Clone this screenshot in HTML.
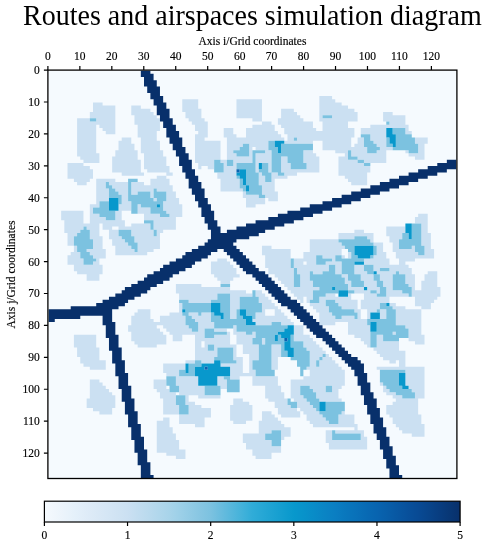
<!DOCTYPE html>
<html><head><meta charset="utf-8"><title>Routes and airspaces simulation diagram</title><style>html,body{margin:0;padding:0;background:#fff;width:485px;height:550px;overflow:hidden;position:relative}</style></head><body>
<svg width="485" height="550" viewBox="0 0 485 550" style="position:absolute;left:0;top:0">
<g>
<rect x="0" y="0" width="485" height="550" fill="#ffffff"/>
<svg x="48.4" y="70.6" width="408.00" height="407.50" viewBox="0 0 128 128" preserveAspectRatio="none">
<rect x="0" y="0" width="128" height="128" fill="#f5fafe"/>
<path fill="#cbe0f2" d="M85 8h4v1h-4zM42 9h5v1h-5zM59 9h8v1h-8zM85 9h5v1h-5zM14 10h3v1h-3zM42 10h5v1h-5zM59 10h8v1h-8zM85 10h7v1h-7zM14 11h7v1h-7zM26 11h3v1h-3zM42 11h5v1h-5zM59 11h8v1h-8zM85 11h9v1h-9zM14 12h7v1h-7zM26 12h6v1h-6zM42 12h6v1h-6zM59 12h8v1h-8zM73 12h4v1h-4zM85 12h11v1h-11zM13 13h8v1h-8zM26 13h7v1h-7zM43 13h5v1h-5zM59 13h8v1h-8zM73 13h5v1h-5zM85 13h12v1h-12zM105 13h3v1h-3zM13 14h8v1h-8zM27 14h7v1h-7zM43 14h5v1h-5zM59 14h8v1h-8zM73 14h6v1h-6zM85 14h1v1h-1zM89 14h8v1h-8zM105 14h7v1h-7zM9 15h4v1h-4zM15 15h6v1h-6zM27 15h8v1h-8zM44 15h5v1h-5zM64 15h3v1h-3zM72 15h8v1h-8zM85 15h12v1h-12zM105 15h7v1h-7zM9 16h12v1h-12zM27 16h8v1h-8zM45 16h5v1h-5zM67 16h3v1h-3zM72 16h11v1h-11zM86 16h8v1h-8zM107 16h5v1h-5zM9 17h6v1h-6zM16 17h5v1h-5zM28 17h7v1h-7zM46 17h4v1h-4zM64 17h7v1h-7zM73 17h10v1h-10zM86 17h8v1h-8zM101 17h12v1h-12zM9 18h6v1h-6zM17 18h4v1h-4zM28 18h7v1h-7zM46 18h4v1h-4zM55 18h3v1h-3zM62 18h9v1h-9zM74 18h10v1h-10zM86 18h10v1h-10zM98 18h8v1h-8zM112 18h1v1h-1zM9 19h6v1h-6zM18 19h3v1h-3zM28 19h6v1h-6zM47 19h3v1h-3zM55 19h3v1h-3zM62 19h10v1h-10zM74 19h22v1h-22zM98 19h8v1h-8zM112 19h2v1h-2zM9 20h6v1h-6zM28 20h6v1h-6zM46 20h4v1h-4zM55 20h4v1h-4zM62 20h11v1h-11zM75 20h21v1h-21zM101 20h5v1h-5zM9 21h6v1h-6zM23 21h3v1h-3zM29 21h5v1h-5zM46 21h3v1h-3zM56 21h18v1h-18zM75 21h2v1h-2zM78 21h17v1h-17zM97 21h2v1h-2zM101 21h5v1h-5zM115 21h4v1h-4zM9 22h6v1h-6zM22 22h4v1h-4zM29 22h6v1h-6zM46 22h8v1h-8zM56 22h13v1h-13zM74 22h9v1h-9zM86 22h9v1h-9zM97 22h2v1h-2zM102 22h4v1h-4zM115 22h4v1h-4zM9 23h6v1h-6zM22 23h5v1h-5zM29 23h6v1h-6zM46 23h8v1h-8zM56 23h5v1h-5zM63 23h6v1h-6zM86 23h9v1h-9zM96 23h3v1h-3zM103 23h3v1h-3zM116 23h2v1h-2zM9 24h6v1h-6zM22 24h5v1h-5zM29 24h6v1h-6zM46 24h8v1h-8zM56 24h4v1h-4zM63 24h1v1h-1zM65 24h4v1h-4zM86 24h14v1h-14zM104 24h4v1h-4zM116 24h2v1h-2zM9 25h6v1h-6zM21 25h7v1h-7zM29 25h7v1h-7zM46 25h8v1h-8zM56 25h2v1h-2zM63 25h1v1h-1zM68 25h2v1h-2zM80 25h3v1h-3zM90 25h4v1h-4zM95 25h5v1h-5zM103 25h3v1h-3zM112 25h1v1h-1zM116 25h2v1h-2zM9 26h7v1h-7zM21 26h7v1h-7zM30 26h6v1h-6zM46 26h8v1h-8zM56 26h3v1h-3zM63 26h1v1h-1zM65 26h5v1h-5zM80 26h4v1h-4zM93 26h1v1h-1zM95 26h11v1h-11zM113 26h5v1h-5zM10 27h6v1h-6zM20 27h8v1h-8zM30 27h7v1h-7zM46 27h8v1h-8zM56 27h8v1h-8zM65 27h5v1h-5zM73 27h2v1h-2zM80 27h5v1h-5zM91 27h3v1h-3zM97 27h9v1h-9zM115 27h3v1h-3zM11 28h5v1h-5zM20 28h9v1h-9zM30 28h7v1h-7zM46 28h6v1h-6zM54 28h2v1h-2zM58 28h6v1h-6zM65 28h5v1h-5zM73 28h2v1h-2zM80 28h5v1h-5zM91 28h6v1h-6zM99 28h7v1h-7zM6 29h5v1h-5zM20 29h9v1h-9zM30 29h7v1h-7zM47 29h5v1h-5zM55 29h1v1h-1zM58 29h1v1h-1zM65 29h1v1h-1zM69 29h1v1h-1zM73 29h3v1h-3zM81 29h4v1h-4zM91 29h8v1h-8zM6 30h7v1h-7zM20 30h9v1h-9zM30 30h8v1h-8zM47 30h1v1h-1zM50 30h2v1h-2zM55 30h4v1h-4zM65 30h1v1h-1zM69 30h1v1h-1zM73 30h3v1h-3zM81 30h4v1h-4zM91 30h10v1h-10zM6 31h8v1h-8zM20 31h9v1h-9zM31 31h7v1h-7zM55 31h4v1h-4zM65 31h1v1h-1zM69 31h1v1h-1zM73 31h12v1h-12zM91 31h10v1h-10zM6 32h8v1h-8zM23 32h7v1h-7zM37 32h2v1h-2zM53 32h6v1h-6zM66 32h1v1h-1zM70 32h2v1h-2zM74 32h4v1h-4zM91 32h9v1h-9zM6 33h8v1h-8zM34 33h3v1h-3zM53 33h6v1h-6zM66 33h2v1h-2zM70 33h5v1h-5zM93 33h7v1h-7zM8 34h5v1h-5zM15 34h6v1h-6zM32 34h6v1h-6zM54 34h6v1h-6zM66 34h2v1h-2zM70 34h1v1h-1zM94 34h6v1h-6zM9 35h3v1h-3zM15 35h3v1h-3zM19 35h6v1h-6zM26 35h4v1h-4zM32 35h6v1h-6zM54 35h6v1h-6zM66 35h5v1h-5zM95 35h5v1h-5zM15 36h3v1h-3zM20 36h5v1h-5zM26 36h13v1h-13zM54 36h6v1h-6zM67 36h4v1h-4zM15 37h4v1h-4zM21 37h4v1h-4zM26 37h7v1h-7zM34 37h5v1h-5zM54 37h7v1h-7zM67 37h4v1h-4zM15 38h4v1h-4zM22 38h3v1h-3zM26 38h2v1h-2zM32 38h1v1h-1zM37 38h3v1h-3zM61 38h1v1h-1zM67 38h5v1h-5zM15 39h4v1h-4zM23 39h2v1h-2zM32 39h1v1h-1zM37 39h3v1h-3zM61 39h5v1h-5zM68 39h4v1h-4zM15 40h4v1h-4zM23 40h2v1h-2zM33 40h1v1h-1zM37 40h4v1h-4zM62 40h6v1h-6zM69 40h3v1h-3zM15 41h1v1h-1zM23 41h3v1h-3zM36 41h5v1h-5zM62 41h6v1h-6zM13 42h3v1h-3zM22 42h4v1h-4zM28 42h1v1h-1zM36 42h6v1h-6zM62 42h3v1h-3zM13 43h1v1h-1zM22 43h4v1h-4zM28 43h4v1h-4zM36 43h6v1h-6zM4 44h7v1h-7zM13 44h1v1h-1zM21 44h2v1h-2zM28 44h4v1h-4zM37 44h5v1h-5zM4 45h7v1h-7zM13 45h3v1h-3zM21 45h2v1h-2zM30 45h5v1h-5zM38 45h4v1h-4zM116 45h3v1h-3zM4 46h7v1h-7zM13 46h5v1h-5zM21 46h2v1h-2zM30 46h10v1h-10zM115 46h4v1h-4zM5 47h6v1h-6zM13 47h11v1h-11zM33 47h7v1h-7zM115 47h4v1h-4zM5 48h11v1h-11zM17 48h7v1h-7zM26 48h6v1h-6zM33 48h7v1h-7zM117 48h2v1h-2zM5 49h6v1h-6zM12 49h4v1h-4zM17 49h3v1h-3zM22 49h10v1h-10zM33 49h7v1h-7zM106 49h6v1h-6zM117 49h2v1h-2zM5 50h5v1h-5zM13 50h3v1h-3zM19 50h3v1h-3zM26 50h7v1h-7zM34 50h2v1h-2zM96 50h3v1h-3zM106 50h6v1h-6zM117 50h2v1h-2zM6 51h3v1h-3zM13 51h3v1h-3zM19 51h3v1h-3zM26 51h7v1h-7zM34 51h1v1h-1zM91 51h11v1h-11zM106 51h5v1h-5zM117 51h3v1h-3zM6 52h2v1h-2zM13 52h4v1h-4zM19 52h4v1h-4zM27 52h8v1h-8zM91 52h5v1h-5zM100 52h2v1h-2zM107 52h4v1h-4zM117 52h3v1h-3zM6 53h2v1h-2zM14 53h3v1h-3zM20 53h4v1h-4zM27 53h8v1h-8zM82 53h9v1h-9zM101 53h1v1h-1zM107 53h3v1h-3zM117 53h3v1h-3zM6 54h2v1h-2zM14 54h3v1h-3zM20 54h5v1h-5zM28 54h7v1h-7zM82 54h10v1h-10zM102 54h3v1h-3zM108 54h2v1h-2zM117 54h3v1h-3zM8 55h1v1h-1zM14 55h3v1h-3zM21 55h5v1h-5zM28 55h7v1h-7zM67 55h3v1h-3zM82 55h11v1h-11zM103 55h2v1h-2zM108 55h2v1h-2zM114 55h1v1h-1zM118 55h2v1h-2zM8 56h1v1h-1zM12 56h6v1h-6zM21 56h6v1h-6zM28 56h5v1h-5zM67 56h9v1h-9zM82 56h10v1h-10zM103 56h2v1h-2zM108 56h7v1h-7zM118 56h3v1h-3zM7 57h3v1h-3zM13 57h5v1h-5zM21 57h10v1h-10zM67 57h9v1h-9zM80 57h12v1h-12zM94 57h1v1h-1zM103 57h3v1h-3zM109 57h7v1h-7zM118 57h3v1h-3zM6 58h4v1h-4zM14 58h4v1h-4zM68 58h8v1h-8zM80 58h4v1h-4zM86 58h4v1h-4zM92 58h1v1h-1zM94 58h1v1h-1zM102 58h4v1h-4zM109 58h12v1h-12zM6 59h5v1h-5zM15 59h1v1h-1zM53 59h3v1h-3zM68 59h8v1h-8zM77 59h7v1h-7zM89 59h1v1h-1zM99 59h8v1h-8zM110 59h5v1h-5zM6 60h5v1h-5zM14 60h2v1h-2zM51 60h6v1h-6zM68 60h8v1h-8zM77 60h3v1h-3zM81 60h3v1h-3zM87 60h5v1h-5zM99 60h8v1h-8zM110 60h2v1h-2zM8 61h9v1h-9zM51 61h7v1h-7zM68 61h8v1h-8zM77 61h11v1h-11zM90 61h2v1h-2zM96 61h3v1h-3zM102 61h11v1h-11zM8 62h9v1h-9zM51 62h8v1h-8zM69 62h8v1h-8zM78 62h10v1h-10zM90 62h2v1h-2zM96 62h3v1h-3zM102 62h2v1h-2zM107 62h7v1h-7zM9 63h8v1h-8zM51 63h8v1h-8zM69 63h8v1h-8zM78 63h4v1h-4zM83 63h3v1h-3zM90 63h2v1h-2zM96 63h4v1h-4zM103 63h6v1h-6zM110 63h4v1h-4zM119 63h3v1h-3zM12 64h4v1h-4zM52 64h8v1h-8zM71 64h6v1h-6zM79 64h3v1h-3zM92 64h2v1h-2zM98 64h4v1h-4zM104 64h4v1h-4zM112 64h3v1h-3zM118 64h4v1h-4zM12 65h4v1h-4zM53 65h5v1h-5zM72 65h5v1h-5zM79 65h3v1h-3zM93 65h1v1h-1zM98 65h4v1h-4zM104 65h4v1h-4zM112 65h3v1h-3zM118 65h4v1h-4zM54 66h3v1h-3zM73 66h4v1h-4zM79 66h4v1h-4zM93 66h2v1h-2zM99 66h4v1h-4zM105 66h3v1h-3zM112 66h3v1h-3zM117 66h5v1h-5zM40 67h8v1h-8zM74 67h3v1h-3zM79 67h4v1h-4zM94 67h1v1h-1zM99 67h4v1h-4zM105 67h3v1h-3zM113 67h2v1h-2zM117 67h5v1h-5zM40 68h17v1h-17zM75 68h10v1h-10zM94 68h5v1h-5zM100 68h4v1h-4zM106 68h2v1h-2zM114 68h1v1h-1zM117 68h6v1h-6zM40 69h22v1h-22zM65 69h2v1h-2zM76 69h7v1h-7zM96 69h5v1h-5zM103 69h1v1h-1zM106 69h5v1h-5zM114 69h9v1h-9zM41 70h12v1h-12zM57 70h7v1h-7zM65 70h3v1h-3zM77 70h6v1h-6zM87 70h3v1h-3zM94 70h1v1h-1zM99 70h4v1h-4zM106 70h7v1h-7zM114 70h9v1h-9zM41 71h12v1h-12zM57 71h3v1h-3zM66 71h3v1h-3zM78 71h2v1h-2zM81 71h2v1h-2zM85 71h10v1h-10zM99 71h8v1h-8zM115 71h7v1h-7zM44 72h7v1h-7zM57 72h3v1h-3zM66 72h4v1h-4zM79 72h1v1h-1zM81 72h1v1h-1zM85 72h2v1h-2zM90 72h7v1h-7zM98 72h9v1h-9zM115 72h6v1h-6zM41 73h1v1h-1zM57 73h3v1h-3zM67 73h4v1h-4zM82 73h5v1h-5zM91 73h6v1h-6zM98 73h6v1h-6zM107 73h2v1h-2zM115 73h5v1h-5zM41 74h1v1h-1zM57 74h3v1h-3zM67 74h5v1h-5zM83 74h5v1h-5zM92 74h5v1h-5zM98 74h6v1h-6zM108 74h4v1h-4zM117 74h3v1h-3zM28 75h4v1h-4zM41 75h1v1h-1zM57 75h2v1h-2zM67 75h1v1h-1zM71 75h2v1h-2zM84 75h4v1h-4zM96 75h2v1h-2zM100 75h3v1h-3zM104 75h2v1h-2zM109 75h8v1h-8zM27 76h5v1h-5zM38 76h4v1h-4zM44 76h3v1h-3zM48 76h3v1h-3zM57 76h2v1h-2zM65 76h3v1h-3zM71 76h3v1h-3zM85 76h4v1h-4zM97 76h1v1h-1zM100 76h1v1h-1zM104 76h2v1h-2zM109 76h8v1h-8zM26 77h6v1h-6zM35 77h8v1h-8zM45 77h6v1h-6zM57 77h2v1h-2zM65 77h10v1h-10zM85 77h5v1h-5zM92 77h4v1h-4zM97 77h1v1h-1zM100 77h1v1h-1zM104 77h2v1h-2zM109 77h8v1h-8zM26 78h7v1h-7zM35 78h8v1h-8zM46 78h5v1h-5zM64 78h12v1h-12zM85 78h15v1h-15zM109 78h8v1h-8zM26 79h17v1h-17zM47 79h5v1h-5zM65 79h5v1h-5zM73 79h4v1h-4zM85 79h5v1h-5zM94 79h6v1h-6zM109 79h8v1h-8zM25 80h9v1h-9zM36 80h8v1h-8zM47 80h5v1h-5zM58 80h1v1h-1zM77 80h3v1h-3zM94 80h7v1h-7zM112 80h5v1h-5zM25 81h10v1h-10zM37 81h8v1h-8zM47 81h2v1h-2zM52 81h4v1h-4zM58 81h1v1h-1zM77 81h3v1h-3zM94 81h7v1h-7zM113 81h4v1h-4zM26 82h10v1h-10zM38 82h11v1h-11zM56 82h1v1h-1zM58 82h4v1h-4zM64 82h1v1h-1zM77 82h3v1h-3zM94 82h7v1h-7zM108 82h1v1h-1zM113 82h4v1h-4zM8 83h7v1h-7zM26 83h11v1h-11zM39 83h3v1h-3zM46 83h3v1h-3zM52 83h5v1h-5zM59 83h6v1h-6zM77 83h5v1h-5zM96 83h5v1h-5zM103 83h2v1h-2zM113 83h5v1h-5zM8 84h7v1h-7zM26 84h11v1h-11zM39 84h3v1h-3zM46 84h11v1h-11zM59 84h5v1h-5zM67 84h1v1h-1zM77 84h6v1h-6zM98 84h3v1h-3zM103 84h2v1h-2zM113 84h5v1h-5zM8 85h7v1h-7zM27 85h10v1h-10zM46 85h2v1h-2zM49 85h8v1h-8zM59 85h5v1h-5zM67 85h1v1h-1zM80 85h4v1h-4zM99 85h2v1h-2zM103 85h7v1h-7zM115 85h3v1h-3zM8 86h7v1h-7zM28 86h6v1h-6zM46 86h2v1h-2zM49 86h1v1h-1zM52 86h7v1h-7zM61 86h5v1h-5zM70 86h3v1h-3zM80 86h5v1h-5zM100 86h1v1h-1zM103 86h7v1h-7zM9 87h7v1h-7zM46 87h4v1h-4zM52 87h1v1h-1zM58 87h1v1h-1zM61 87h5v1h-5zM70 87h3v1h-3zM81 87h5v1h-5zM102 87h8v1h-8zM9 88h7v1h-7zM46 88h7v1h-7zM58 88h1v1h-1zM61 88h5v1h-5zM70 88h3v1h-3zM82 88h5v1h-5zM103 88h9v1h-9zM9 89h7v1h-7zM46 89h7v1h-7zM58 89h1v1h-1zM63 89h3v1h-3zM70 89h3v1h-3zM82 89h4v1h-4zM87 89h1v1h-1zM104 89h8v1h-8zM10 90h6v1h-6zM46 90h6v1h-6zM58 90h3v1h-3zM63 90h3v1h-3zM70 90h2v1h-2zM82 90h3v1h-3zM86 90h3v1h-3zM105 90h7v1h-7zM10 91h8v1h-8zM43 91h3v1h-3zM48 91h4v1h-4zM59 91h2v1h-2zM63 91h1v1h-1zM70 91h2v1h-2zM82 91h2v1h-2zM85 91h5v1h-5zM107 91h2v1h-2zM110 91h2v1h-2zM11 92h7v1h-7zM36 92h7v1h-7zM54 92h7v1h-7zM63 92h1v1h-1zM70 92h2v1h-2zM82 92h2v1h-2zM85 92h6v1h-6zM110 92h2v1h-2zM13 93h5v1h-5zM36 93h7v1h-7zM57 93h4v1h-4zM63 93h1v1h-1zM70 93h2v1h-2zM81 93h11v1h-11zM103 93h15v1h-15zM36 94h5v1h-5zM57 94h4v1h-4zM63 94h2v1h-2zM82 94h11v1h-11zM112 94h6v1h-6zM37 95h4v1h-4zM57 95h8v1h-8zM82 95h11v1h-11zM112 95h6v1h-6zM40 96h7v1h-7zM53 96h2v1h-2zM57 96h3v1h-3zM64 96h8v1h-8zM80 96h13v1h-13zM112 96h6v1h-6zM13 97h3v1h-3zM33 97h4v1h-4zM40 97h7v1h-7zM53 97h3v1h-3zM64 97h8v1h-8zM76 97h17v1h-17zM112 97h6v1h-6zM13 98h4v1h-4zM33 98h4v1h-4zM40 98h7v1h-7zM53 98h3v1h-3zM64 98h8v1h-8zM76 98h17v1h-17zM104 98h1v1h-1zM112 98h6v1h-6zM13 99h5v1h-5zM33 99h4v1h-4zM41 99h8v1h-8zM54 99h2v1h-2zM68 99h5v1h-5zM76 99h3v1h-3zM82 99h5v1h-5zM89 99h3v1h-3zM105 99h1v1h-1zM113 99h5v1h-5zM13 100h6v1h-6zM34 100h4v1h-4zM41 100h8v1h-8zM68 100h5v1h-5zM76 100h3v1h-3zM83 100h4v1h-4zM89 100h2v1h-2zM105 100h2v1h-2zM114 100h4v1h-4zM13 101h7v1h-7zM35 101h5v1h-5zM41 101h8v1h-8zM68 101h6v1h-6zM76 101h3v1h-3zM84 101h7v1h-7zM106 101h3v1h-3zM115 101h3v1h-3zM13 102h8v1h-8zM35 102h5v1h-5zM43 102h1v1h-1zM47 102h7v1h-7zM68 102h6v1h-6zM76 102h4v1h-4zM84 102h7v1h-7zM108 102h3v1h-3zM115 102h3v1h-3zM12 103h9v1h-9zM36 103h4v1h-4zM43 103h1v1h-1zM58 103h3v1h-3zM69 103h6v1h-6zM77 103h4v1h-4zM85 103h7v1h-7zM109 103h7v1h-7zM12 104h9v1h-9zM36 104h4v1h-4zM43 104h3v1h-3zM58 104h5v1h-5zM71 104h4v1h-4zM78 104h4v1h-4zM108 104h8v1h-8zM12 105h9v1h-9zM36 105h5v1h-5zM44 105h4v1h-4zM57 105h7v1h-7zM71 105h5v1h-5zM78 105h5v1h-5zM106 105h10v1h-10zM14 106h6v1h-6zM36 106h5v1h-5zM44 106h7v1h-7zM57 106h7v1h-7zM72 106h6v1h-6zM79 106h5v1h-5zM106 106h10v1h-10zM16 107h4v1h-4zM36 107h5v1h-5zM44 107h7v1h-7zM57 107h7v1h-7zM67 107h3v1h-3zM72 107h7v1h-7zM80 107h5v1h-5zM92 107h1v1h-1zM106 107h10v1h-10zM41 108h10v1h-10zM57 108h7v1h-7zM67 108h4v1h-4zM73 108h6v1h-6zM81 108h5v1h-5zM91 108h5v1h-5zM107 108h10v1h-10zM36 109h2v1h-2zM41 109h8v1h-8zM57 109h7v1h-7zM67 109h5v1h-5zM81 109h6v1h-6zM91 109h5v1h-5zM108 109h9v1h-9zM34 110h4v1h-4zM41 110h8v1h-8zM58 110h4v1h-4zM66 110h7v1h-7zM82 110h6v1h-6zM91 110h5v1h-5zM108 110h9v1h-9zM34 111h4v1h-4zM46 111h3v1h-3zM66 111h8v1h-8zM83 111h14v1h-14zM109 111h9v1h-9zM34 112h5v1h-5zM66 112h10v1h-10zM96 112h1v1h-1zM110 112h8v1h-8zM34 113h5v1h-5zM66 113h4v1h-4zM73 113h3v1h-3zM87 113h2v1h-2zM90 113h9v1h-9zM111 113h7v1h-7zM34 114h6v1h-6zM61 114h7v1h-7zM73 114h3v1h-3zM87 114h2v1h-2zM98 114h1v1h-1zM114 114h4v1h-4zM34 115h6v1h-6zM61 115h7v1h-7zM73 115h1v1h-1zM87 115h2v1h-2zM98 115h2v1h-2zM34 116h7v1h-7zM61 116h9v1h-9zM87 116h13v1h-13zM34 117h7v1h-7zM62 117h8v1h-8zM88 117h12v1h-12zM34 118h7v1h-7zM62 118h11v1h-11zM88 118h12v1h-12zM34 119h9v1h-9zM64 119h9v1h-9zM37 120h6v1h-6zM64 120h6v1h-6zM40 121h3v1h-3zM65 121h5v1h-5z"/>
<path fill="#7cc2e0" d="M86 14h3v1h-3zM13 15h2v1h-2zM106 16h1v1h-1zM108 18h4v1h-4zM108 19h4v1h-4zM98 20h3v1h-3zM109 20h5v1h-5zM77 21h1v1h-1zM99 21h2v1h-2zM106 21h1v1h-1zM109 21h6v1h-6zM69 22h2v1h-2zM99 22h3v1h-3zM106 22h1v1h-1zM109 22h6v1h-6zM61 23h2v1h-2zM69 23h2v1h-2zM73 23h10v1h-10zM99 23h4v1h-4zM106 23h2v1h-2zM109 23h7v1h-7zM60 24h3v1h-3zM69 24h3v1h-3zM73 24h10v1h-10zM100 24h4v1h-4zM108 24h8v1h-8zM58 25h5v1h-5zM64 25h4v1h-4zM70 25h2v1h-2zM73 25h7v1h-7zM94 25h1v1h-1zM100 25h3v1h-3zM113 25h3v1h-3zM59 26h4v1h-4zM64 26h1v1h-1zM70 26h10v1h-10zM94 26h1v1h-1zM64 27h1v1h-1zM70 27h3v1h-3zM75 27h5v1h-5zM94 27h3v1h-3zM52 28h2v1h-2zM56 28h2v1h-2zM64 28h1v1h-1zM70 28h3v1h-3zM75 28h5v1h-5zM97 28h2v1h-2zM52 29h3v1h-3zM56 29h2v1h-2zM59 29h6v1h-6zM67 29h2v1h-2zM70 29h3v1h-3zM76 29h5v1h-5zM99 29h2v1h-2zM52 30h3v1h-3zM59 30h6v1h-6zM67 30h2v1h-2zM70 30h3v1h-3zM76 30h5v1h-5zM52 31h3v1h-3zM62 31h3v1h-3zM66 31h3v1h-3zM70 31h3v1h-3zM62 32h4v1h-4zM67 32h3v1h-3zM72 32h2v1h-2zM59 33h1v1h-1zM62 33h4v1h-4zM68 33h2v1h-2zM25 34h3v1h-3zM60 34h1v1h-1zM62 34h4v1h-4zM68 34h2v1h-2zM18 35h1v1h-1zM25 35h1v1h-1zM60 35h1v1h-1zM62 35h4v1h-4zM18 36h2v1h-2zM25 36h1v1h-1zM60 36h2v1h-2zM63 36h4v1h-4zM19 37h2v1h-2zM25 37h1v1h-1zM33 37h1v1h-1zM61 37h1v1h-1zM63 37h4v1h-4zM19 38h3v1h-3zM25 38h1v1h-1zM28 38h4v1h-4zM33 38h4v1h-4zM62 38h5v1h-5zM19 39h4v1h-4zM25 39h7v1h-7zM33 39h4v1h-4zM66 39h2v1h-2zM22 40h1v1h-1zM25 40h8v1h-8zM34 40h3v1h-3zM16 41h3v1h-3zM22 41h1v1h-1zM26 41h10v1h-10zM16 42h3v1h-3zM26 42h2v1h-2zM29 42h5v1h-5zM35 42h1v1h-1zM14 43h5v1h-5zM26 43h2v1h-2zM32 43h4v1h-4zM14 44h7v1h-7zM26 44h2v1h-2zM32 44h5v1h-5zM16 45h5v1h-5zM35 45h3v1h-3zM18 46h3v1h-3zM30 47h3v1h-3zM32 48h1v1h-1zM114 48h3v1h-3zM11 49h1v1h-1zM32 49h1v1h-1zM114 49h3v1h-3zM10 50h3v1h-3zM22 50h4v1h-4zM33 50h1v1h-1zM114 50h3v1h-3zM9 51h4v1h-4zM22 51h4v1h-4zM33 51h1v1h-1zM111 51h2v1h-2zM114 51h3v1h-3zM8 52h5v1h-5zM23 52h4v1h-4zM96 52h4v1h-4zM111 52h2v1h-2zM114 52h3v1h-3zM8 53h6v1h-6zM24 53h3v1h-3zM91 53h10v1h-10zM110 53h7v1h-7zM8 54h6v1h-6zM25 54h3v1h-3zM92 54h10v1h-10zM110 54h7v1h-7zM9 55h5v1h-5zM26 55h2v1h-2zM93 55h3v1h-3zM102 55h1v1h-1zM110 55h4v1h-4zM115 55h3v1h-3zM9 56h3v1h-3zM27 56h1v1h-1zM94 56h2v1h-2zM102 56h1v1h-1zM115 56h3v1h-3zM10 57h3v1h-3zM95 57h1v1h-1zM102 57h1v1h-1zM116 57h2v1h-2zM10 58h4v1h-4zM84 58h2v1h-2zM90 58h2v1h-2zM95 58h2v1h-2zM101 58h1v1h-1zM11 59h4v1h-4zM76 59h1v1h-1zM84 59h5v1h-5zM90 59h9v1h-9zM11 60h3v1h-3zM76 60h1v1h-1zM84 60h3v1h-3zM92 60h4v1h-4zM76 61h1v1h-1zM88 61h2v1h-2zM92 61h4v1h-4zM99 61h3v1h-3zM77 62h1v1h-1zM88 62h2v1h-2zM92 62h4v1h-4zM99 62h3v1h-3zM104 62h3v1h-3zM77 63h1v1h-1zM82 63h1v1h-1zM86 63h4v1h-4zM92 63h4v1h-4zM100 63h2v1h-2zM109 63h1v1h-1zM77 64h2v1h-2zM82 64h10v1h-10zM94 64h4v1h-4zM102 64h2v1h-2zM108 64h4v1h-4zM77 65h2v1h-2zM82 65h11v1h-11zM94 65h4v1h-4zM102 65h2v1h-2zM108 65h4v1h-4zM77 66h2v1h-2zM83 66h10v1h-10zM95 66h4v1h-4zM103 66h2v1h-2zM108 66h4v1h-4zM54 67h3v1h-3zM77 67h2v1h-2zM83 67h11v1h-11zM95 67h4v1h-4zM103 67h2v1h-2zM108 67h5v1h-5zM85 68h4v1h-4zM90 68h4v1h-4zM104 68h2v1h-2zM108 68h6v1h-6zM64 69h1v1h-1zM83 69h8v1h-8zM94 69h2v1h-2zM101 69h2v1h-2zM104 69h2v1h-2zM111 69h3v1h-3zM53 70h4v1h-4zM64 70h1v1h-1zM83 70h4v1h-4zM103 70h3v1h-3zM113 70h1v1h-1zM53 71h4v1h-4zM60 71h6v1h-6zM83 71h2v1h-2zM41 72h3v1h-3zM51 72h6v1h-6zM60 72h6v1h-6zM82 72h3v1h-3zM87 72h3v1h-3zM42 73h9v1h-9zM54 73h3v1h-3zM60 73h7v1h-7zM87 73h4v1h-4zM104 73h2v1h-2zM42 74h9v1h-9zM54 74h3v1h-3zM60 74h7v1h-7zM88 74h4v1h-4zM104 74h4v1h-4zM43 75h8v1h-8zM54 75h3v1h-3zM59 75h1v1h-1zM62 75h5v1h-5zM88 75h8v1h-8zM103 75h1v1h-1zM106 75h3v1h-3zM42 76h2v1h-2zM47 76h1v1h-1zM51 76h1v1h-1zM55 76h2v1h-2zM59 76h1v1h-1zM62 76h3v1h-3zM89 76h8v1h-8zM106 76h3v1h-3zM43 77h2v1h-2zM51 77h3v1h-3zM55 77h2v1h-2zM59 77h2v1h-2zM64 77h1v1h-1zM90 77h2v1h-2zM96 77h1v1h-1zM106 77h3v1h-3zM43 78h3v1h-3zM51 78h11v1h-11zM100 78h9v1h-9zM43 79h4v1h-4zM52 79h10v1h-10zM70 79h3v1h-3zM100 79h1v1h-1zM103 79h6v1h-6zM44 80h3v1h-3zM52 80h6v1h-6zM59 80h16v1h-16zM103 80h9v1h-9zM45 81h2v1h-2zM49 81h3v1h-3zM59 81h15v1h-15zM103 81h10v1h-10zM49 82h7v1h-7zM62 82h2v1h-2zM65 82h7v1h-7zM101 82h7v1h-7zM109 82h4v1h-4zM49 83h3v1h-3zM65 83h6v1h-6zM72 83h1v1h-1zM76 83h1v1h-1zM101 83h2v1h-2zM105 83h8v1h-8zM64 84h3v1h-3zM68 84h3v1h-3zM72 84h2v1h-2zM76 84h1v1h-1zM101 84h2v1h-2zM105 84h5v1h-5zM64 85h3v1h-3zM68 85h6v1h-6zM76 85h4v1h-4zM101 85h2v1h-2zM50 86h2v1h-2zM66 86h4v1h-4zM73 86h1v1h-1zM76 86h4v1h-4zM101 86h2v1h-2zM50 87h2v1h-2zM53 87h5v1h-5zM66 87h4v1h-4zM73 87h1v1h-1zM77 87h4v1h-4zM53 88h5v1h-5zM66 88h4v1h-4zM73 88h2v1h-2zM77 88h5v1h-5zM53 89h5v1h-5zM66 89h4v1h-4zM73 89h2v1h-2zM77 89h5v1h-5zM86 89h1v1h-1zM52 90h6v1h-6zM66 90h4v1h-4zM76 90h6v1h-6zM85 90h1v1h-1zM46 91h2v1h-2zM54 91h5v1h-5zM64 91h6v1h-6zM78 91h4v1h-4zM84 91h1v1h-1zM44 92h4v1h-4zM64 92h6v1h-6zM78 92h4v1h-4zM84 92h1v1h-1zM44 93h2v1h-2zM64 93h6v1h-6zM79 93h2v1h-2zM41 94h2v1h-2zM44 94h2v1h-2zM65 94h6v1h-6zM79 94h1v1h-1zM104 94h8v1h-8zM41 95h5v1h-5zM65 95h6v1h-6zM79 95h1v1h-1zM104 95h6v1h-6zM37 96h3v1h-3zM55 96h2v1h-2zM104 96h6v1h-6zM37 97h3v1h-3zM56 97h4v1h-4zM104 97h6v1h-6zM37 98h3v1h-3zM56 98h4v1h-4zM105 98h5v1h-5zM38 99h3v1h-3zM49 99h5v1h-5zM56 99h4v1h-4zM79 99h3v1h-3zM87 99h2v1h-2zM106 99h5v1h-5zM38 100h3v1h-3zM49 100h5v1h-5zM56 100h4v1h-4zM79 100h4v1h-4zM87 100h2v1h-2zM107 100h7v1h-7zM49 101h5v1h-5zM79 101h5v1h-5zM109 101h6v1h-6zM40 102h3v1h-3zM80 102h4v1h-4zM111 102h4v1h-4zM40 103h3v1h-3zM75 103h1v1h-1zM81 103h4v1h-4zM40 104h3v1h-3zM75 104h3v1h-3zM82 104h3v1h-3zM87 104h6v1h-6zM41 105h3v1h-3zM76 105h2v1h-2zM83 105h2v1h-2zM87 105h6v1h-6zM41 106h3v1h-3zM84 106h1v1h-1zM87 106h6v1h-6zM41 107h3v1h-3zM85 107h7v1h-7zM86 108h5v1h-5zM87 109h4v1h-4zM88 110h3v1h-3zM70 113h3v1h-3zM89 113h1v1h-1zM68 114h5v1h-5zM89 114h9v1h-9zM68 115h5v1h-5zM89 115h9v1h-9zM70 116h3v1h-3zM70 117h3v1h-3z"/>
<path fill="#0898cc" d="M106 18h2v1h-2zM106 19h2v1h-2zM106 20h3v1h-3zM107 21h2v1h-2zM71 22h3v1h-3zM107 22h2v1h-2zM71 23h2v1h-2zM108 23h1v1h-1zM72 24h1v1h-1zM72 25h1v1h-1zM66 29h1v1h-1zM66 30h1v1h-1zM60 31h2v1h-2zM59 32h3v1h-3zM60 33h2v1h-2zM61 34h1v1h-1zM61 35h1v1h-1zM62 36h1v1h-1zM62 37h1v1h-1zM19 40h3v1h-3zM19 41h3v1h-3zM19 42h3v1h-3zM34 42h1v1h-1zM19 43h3v1h-3zM112 48h2v1h-2zM112 49h2v1h-2zM112 50h2v1h-2zM113 51h1v1h-1zM113 52h1v1h-1zM96 55h6v1h-6zM96 56h6v1h-6zM96 57h6v1h-6zM97 58h4v1h-4zM96 60h3v1h-3zM102 63h1v1h-1zM89 68h1v1h-1zM99 68h1v1h-1zM91 69h3v1h-3zM91 70h3v1h-3zM51 73h3v1h-3zM106 73h1v1h-1zM51 74h3v1h-3zM42 75h1v1h-1zM51 75h3v1h-3zM60 75h2v1h-2zM52 76h3v1h-3zM60 76h2v1h-2zM101 76h3v1h-3zM54 77h1v1h-1zM61 77h3v1h-3zM101 77h3v1h-3zM62 78h2v1h-2zM62 79h3v1h-3zM101 79h2v1h-2zM75 80h2v1h-2zM101 80h2v1h-2zM74 81h3v1h-3zM101 81h2v1h-2zM72 82h5v1h-5zM71 83h1v1h-1zM73 83h3v1h-3zM71 84h1v1h-1zM75 84h1v1h-1zM74 85h2v1h-2zM74 86h2v1h-2zM74 87h3v1h-3zM75 88h2v1h-2zM75 89h2v1h-2zM52 91h2v1h-2zM43 92h1v1h-1zM48 92h6v1h-6zM43 93h1v1h-1zM46 93h3v1h-3zM50 93h7v1h-7zM43 94h1v1h-1zM46 94h11v1h-11zM46 95h11v1h-11zM110 95h2v1h-2zM47 96h6v1h-6zM110 96h2v1h-2zM47 97h6v1h-6zM110 97h2v1h-2zM47 98h6v1h-6zM110 98h2v1h-2zM111 99h2v1h-2zM85 104h2v1h-2zM85 105h2v1h-2zM85 106h2v1h-2z"/>
<path fill="#0864b0" d="M59 31h1v1h-1zM74 84h1v1h-1zM49 93h1v1h-1z"/>
<path fill="#08306b" d="M29 0h3v1h-3zM29 1h4v1h-4zM30 2h3v1h-3zM30 3h4v1h-4zM30 4h4v1h-4zM31 5h4v1h-4zM31 6h4v1h-4zM32 7h3v1h-3zM32 8h4v1h-4zM33 9h3v1h-3zM33 10h4v1h-4zM34 11h3v1h-3zM34 12h4v1h-4zM34 13h4v1h-4zM35 14h3v1h-3zM35 15h4v1h-4zM36 16h3v1h-3zM36 17h4v1h-4zM37 18h3v1h-3zM37 19h4v1h-4zM37 20h4v1h-4zM38 21h4v1h-4zM38 22h4v1h-4zM39 23h3v1h-3zM39 24h4v1h-4zM40 25h3v1h-3zM40 26h4v1h-4zM41 27h3v1h-3zM41 28h4v1h-4zM125 28h3v1h-3zM41 29h4v1h-4zM122 29h6v1h-6zM42 30h3v1h-3zM119 30h9v1h-9zM42 31h4v1h-4zM116 31h9v1h-9zM43 32h3v1h-3zM113 32h9v1h-9zM43 33h4v1h-4zM110 33h9v1h-9zM44 34h3v1h-3zM107 34h9v1h-9zM44 35h4v1h-4zM104 35h9v1h-9zM44 36h4v1h-4zM101 36h9v1h-9zM45 37h4v1h-4zM98 37h9v1h-9zM45 38h4v1h-4zM95 38h9v1h-9zM46 39h3v1h-3zM92 39h9v1h-9zM46 40h4v1h-4zM89 40h9v1h-9zM47 41h3v1h-3zM86 41h9v1h-9zM47 42h4v1h-4zM82 42h10v1h-10zM48 43h3v1h-3zM79 43h10v1h-10zM48 44h4v1h-4zM75 44h11v1h-11zM48 45h4v1h-4zM72 45h11v1h-11zM49 46h3v1h-3zM69 46h11v1h-11zM49 47h4v1h-4zM65 47h12v1h-12zM50 48h3v1h-3zM62 48h12v1h-12zM50 49h4v1h-4zM59 49h12v1h-12zM51 50h3v1h-3zM56 50h12v1h-12zM51 51h15v1h-15zM51 52h12v1h-12zM50 53h9v1h-9zM49 54h9v1h-9zM47 55h12v1h-12zM45 56h8v1h-8zM55 56h5v1h-5zM43 57h8v1h-8zM56 57h5v1h-5zM42 58h8v1h-8zM57 58h5v1h-5zM40 59h8v1h-8zM58 59h5v1h-5zM38 60h8v1h-8zM59 60h5v1h-5zM36 61h9v1h-9zM60 61h5v1h-5zM35 62h8v1h-8zM61 62h5v1h-5zM33 63h8v1h-8zM62 63h6v1h-6zM31 64h8v1h-8zM64 64h5v1h-5zM30 65h8v1h-8zM65 65h5v1h-5zM28 66h8v1h-8zM66 66h5v1h-5zM26 67h8v1h-8zM67 67h5v1h-5zM24 68h8v1h-8zM68 68h5v1h-5zM23 69h8v1h-8zM69 69h5v1h-5zM21 70h8v1h-8zM70 70h5v1h-5zM19 71h8v1h-8zM71 71h5v1h-5zM17 72h8v1h-8zM72 72h6v1h-6zM15 73h9v1h-9zM73 73h6v1h-6zM7 74h15v1h-15zM75 74h5v1h-5zM0 75h20v1h-20zM76 75h5v1h-5zM0 76h20v1h-20zM77 76h5v1h-5zM0 77h10v1h-10zM17 77h3v1h-3zM78 77h5v1h-5zM0 78h2v1h-2zM17 78h3v1h-3zM79 78h5v1h-5zM17 79h4v1h-4zM80 79h5v1h-5zM18 80h3v1h-3zM81 80h5v1h-5zM18 81h3v1h-3zM82 81h5v1h-5zM18 82h3v1h-3zM83 82h5v1h-5zM18 83h4v1h-4zM84 83h5v1h-5zM19 84h3v1h-3zM86 84h4v1h-4zM19 85h3v1h-3zM87 85h4v1h-4zM19 86h3v1h-3zM88 86h4v1h-4zM19 87h4v1h-4zM89 87h4v1h-4zM20 88h3v1h-3zM90 88h4v1h-4zM20 89h3v1h-3zM91 89h4v1h-4zM20 90h3v1h-3zM92 90h5v1h-5zM20 91h4v1h-4zM93 91h5v1h-5zM21 92h3v1h-3zM94 92h5v1h-5zM21 93h3v1h-3zM95 93h4v1h-4zM21 94h3v1h-3zM96 94h3v1h-3zM21 95h4v1h-4zM96 95h4v1h-4zM22 96h3v1h-3zM97 96h3v1h-3zM22 97h3v1h-3zM97 97h3v1h-3zM22 98h3v1h-3zM97 98h4v1h-4zM22 99h4v1h-4zM98 99h3v1h-3zM23 100h3v1h-3zM98 100h3v1h-3zM23 101h3v1h-3zM98 101h4v1h-4zM23 102h3v1h-3zM99 102h3v1h-3zM23 103h4v1h-4zM99 103h4v1h-4zM24 104h3v1h-3zM99 104h4v1h-4zM24 105h3v1h-3zM100 105h3v1h-3zM24 106h3v1h-3zM100 106h4v1h-4zM24 107h4v1h-4zM100 107h4v1h-4zM25 108h3v1h-3zM101 108h3v1h-3zM25 109h3v1h-3zM101 109h4v1h-4zM25 110h3v1h-3zM101 110h4v1h-4zM25 111h4v1h-4zM102 111h3v1h-3zM26 112h3v1h-3zM102 112h4v1h-4zM26 113h3v1h-3zM102 113h4v1h-4zM26 114h3v1h-3zM103 114h3v1h-3zM26 115h4v1h-4zM103 115h4v1h-4zM27 116h3v1h-3zM104 116h3v1h-3zM27 117h3v1h-3zM104 117h3v1h-3zM27 118h3v1h-3zM104 118h4v1h-4zM27 119h4v1h-4zM105 119h3v1h-3zM28 120h3v1h-3zM105 120h3v1h-3zM28 121h3v1h-3zM105 121h4v1h-4zM28 122h3v1h-3zM106 122h3v1h-3zM28 123h4v1h-4zM106 123h3v1h-3zM29 124h3v1h-3zM106 124h4v1h-4zM29 125h3v1h-3zM107 125h3v1h-3zM29 126h3v1h-3zM107 126h3v1h-3zM29 127h4v1h-4zM107 127h4v1h-4z"/>
</svg>
<rect x="47.9" y="70.1" width="409.00" height="408.40" fill="none" stroke="#000" stroke-width="1.3"/>
<path d="M47.90 70.1v-4M47.9 70.10h-4M79.86 70.1v-4M47.9 102.02h-4M111.82 70.1v-4M47.9 133.93h-4M143.78 70.1v-4M47.9 165.85h-4M175.73 70.1v-4M47.9 197.77h-4M207.69 70.1v-4M47.9 229.68h-4M239.65 70.1v-4M47.9 261.60h-4M271.61 70.1v-4M47.9 293.52h-4M303.57 70.1v-4M47.9 325.43h-4M335.52 70.1v-4M47.9 357.35h-4M367.48 70.1v-4M47.9 389.27h-4M399.44 70.1v-4M47.9 421.18h-4M431.40 70.1v-4M47.9 453.10h-4" stroke="#000" stroke-width="1.2" fill="none"/>
<g font-family="'Liberation Serif', 'DejaVu Serif', serif" font-size="11.5" fill="#000" stroke="#000" stroke-width="0.15">
<text x="47.90" y="59.9" text-anchor="middle">0</text>
<text x="39.8" y="74.00" text-anchor="end">0</text>
<text x="79.86" y="59.9" text-anchor="middle">10</text>
<text x="39.8" y="105.92" text-anchor="end">10</text>
<text x="111.82" y="59.9" text-anchor="middle">20</text>
<text x="39.8" y="137.83" text-anchor="end">20</text>
<text x="143.78" y="59.9" text-anchor="middle">30</text>
<text x="39.8" y="169.75" text-anchor="end">30</text>
<text x="175.73" y="59.9" text-anchor="middle">40</text>
<text x="39.8" y="201.67" text-anchor="end">40</text>
<text x="207.69" y="59.9" text-anchor="middle">50</text>
<text x="39.8" y="233.58" text-anchor="end">50</text>
<text x="239.65" y="59.9" text-anchor="middle">60</text>
<text x="39.8" y="265.50" text-anchor="end">60</text>
<text x="271.61" y="59.9" text-anchor="middle">70</text>
<text x="39.8" y="297.42" text-anchor="end">70</text>
<text x="303.57" y="59.9" text-anchor="middle">80</text>
<text x="39.8" y="329.33" text-anchor="end">80</text>
<text x="335.52" y="59.9" text-anchor="middle">90</text>
<text x="39.8" y="361.25" text-anchor="end">90</text>
<text x="367.48" y="59.9" text-anchor="middle">100</text>
<text x="39.8" y="393.17" text-anchor="end">100</text>
<text x="399.44" y="59.9" text-anchor="middle">110</text>
<text x="39.8" y="425.08" text-anchor="end">110</text>
<text x="431.40" y="59.9" text-anchor="middle">120</text>
<text x="39.8" y="457.00" text-anchor="end">120</text>
<text x="252.4" y="44.5" text-anchor="middle">Axis i/Grid coordinates</text>
<text transform="translate(15.2 274.5) rotate(-90)" text-anchor="middle">Axis j/Grid coordinates</text>
</g>
<text transform="translate(252.4 24.8) scale(1 1.07)" x="0" y="0" text-anchor="middle" font-family="'Liberation Serif', 'DejaVu Serif', serif" font-size="28" fill="#000">Routes and airspaces simulation diagram</text>
<defs><linearGradient id="cb" x1="0" y1="0" x2="1" y2="0"><stop offset="0.0000" stop-color="#f5fafe"/><stop offset="0.0250" stop-color="#f0f6fc"/><stop offset="0.0500" stop-color="#eaf3fb"/><stop offset="0.0750" stop-color="#e4f0fa"/><stop offset="0.1000" stop-color="#dfecf8"/><stop offset="0.1250" stop-color="#dae9f6"/><stop offset="0.1500" stop-color="#d5e6f5"/><stop offset="0.1750" stop-color="#d0e3f3"/><stop offset="0.2000" stop-color="#cbe0f2"/><stop offset="0.2250" stop-color="#c2ddf0"/><stop offset="0.2500" stop-color="#badaee"/><stop offset="0.2750" stop-color="#b1d7ec"/><stop offset="0.3000" stop-color="#a8d4ea"/><stop offset="0.3250" stop-color="#9dd0e8"/><stop offset="0.3500" stop-color="#92cbe5"/><stop offset="0.3750" stop-color="#87c6e2"/><stop offset="0.4000" stop-color="#7cc2e0"/><stop offset="0.4250" stop-color="#69bcde"/><stop offset="0.4500" stop-color="#56b7dc"/><stop offset="0.4750" stop-color="#43b2da"/><stop offset="0.5000" stop-color="#30acd8"/><stop offset="0.5250" stop-color="#26a7d5"/><stop offset="0.5500" stop-color="#1ca2d2"/><stop offset="0.5750" stop-color="#129dcf"/><stop offset="0.6000" stop-color="#0898cc"/><stop offset="0.6250" stop-color="#0892ca"/><stop offset="0.6500" stop-color="#098bc7"/><stop offset="0.6750" stop-color="#0a84c4"/><stop offset="0.7000" stop-color="#0a7ec2"/><stop offset="0.7250" stop-color="#0977bd"/><stop offset="0.7500" stop-color="#0971b9"/><stop offset="0.7750" stop-color="#086ab4"/><stop offset="0.8000" stop-color="#0864b0"/><stop offset="0.8250" stop-color="#085ea9"/><stop offset="0.8500" stop-color="#0857a2"/><stop offset="0.8750" stop-color="#08509b"/><stop offset="0.9000" stop-color="#084a94"/><stop offset="0.9250" stop-color="#08448a"/><stop offset="0.9500" stop-color="#083d80"/><stop offset="0.9750" stop-color="#083775"/><stop offset="1.0000" stop-color="#08306b"/></linearGradient></defs>
<rect x="44.4" y="501.2" width="415.70" height="20.80" fill="url(#cb)" stroke="#000" stroke-width="1.2"/>
<path d="M44.40 522.0v4M127.54 522.0v4M210.68 522.0v4M293.82 522.0v4M376.96 522.0v4M460.10 522.0v4" stroke="#000" stroke-width="1.2" fill="none"/>
<g font-family="'Liberation Serif', 'DejaVu Serif', serif" font-size="11.5" fill="#000" stroke="#000" stroke-width="0.15"><text x="44.40" y="538.5" text-anchor="middle">0</text><text x="127.54" y="538.5" text-anchor="middle">1</text><text x="210.68" y="538.5" text-anchor="middle">2</text><text x="293.82" y="538.5" text-anchor="middle">3</text><text x="376.96" y="538.5" text-anchor="middle">4</text><text x="460.10" y="538.5" text-anchor="middle">5</text></g>
</g>
</svg>
</body></html>
